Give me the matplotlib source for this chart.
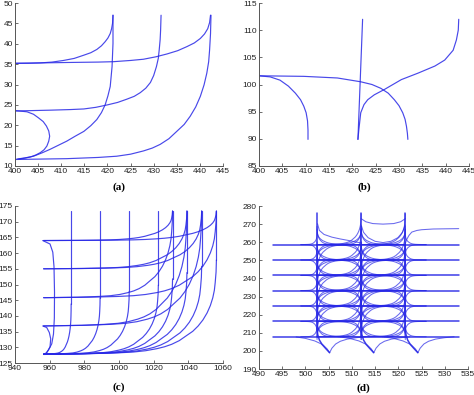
import matplotlib
matplotlib.use("Agg")
import matplotlib.pyplot as plt

# ---------------- panel (a) ----------------
a_xlim = (400, 445); a_ylim = (10, 50)
a_xticks = list(range(400, 446, 5)); a_yticks = list(range(10, 51, 5))
a_curves_x = [
    [400, 403, 405.5, 408, 410.5, 412.8, 414.9, 416.4, 417.7, 418.7, 419.5, 420.1, 420.6, 420.9, 421.1, 421.2],
    [400, 411.2, 418, 421.3, 425, 427.8, 430.5, 432.9, 435.2, 437.2, 438.8, 440.1, 441.0, 441.7, 442.1, 442.3],
    [400, 407.6, 412, 414.9, 417.5, 420, 422.2, 424.2, 425.8, 427.1, 428.3, 429.3, 430.0, 430.6, 431.0, 431.2, 431.4, 431.5, 431.6],
    [400, 402.6, 404.0, 405.1, 406.1, 406.8, 407.3, 407.5, 407.3, 406.9, 406.3, 405.5, 404.5, 403.3, 402.0, 400.8],
    [400.4, 402.2, 404, 405.8, 407.6, 409.4, 411.2, 413, 414.9, 416.4, 417.7, 418.7, 419.5, 420.1, 420.6, 421, 421.2, 421.2],
    [400, 411.2, 418, 422, 425, 427.8, 429.7, 431.4, 433.3, 435, 436.6, 437.9, 439.1, 440.1, 440.9, 441.5, 441.9, 442.1, 442.3, 442.4],
]
a_curves_y = [
    [35.2, 35.22, 35.3, 35.5, 35.9, 36.4, 37.2, 37.8, 38.6, 39.5, 40.5, 41.4, 42.5, 43.7, 45.0, 47.0],
    [35.2, 35.4, 35.5, 35.6, 35.9, 36.2, 36.8, 37.5, 38.3, 39.3, 40.2, 41.3, 42.4, 43.7, 45.2, 47.0],
    [23.5, 23.7, 23.85, 24.0, 24.4, 25.0, 25.6, 26.4, 27.1, 28.0, 29.1, 30.5, 32.2, 34.4, 36.4, 38.5, 41, 43.3, 47.0],
    [23.6, 23.3, 22.7, 21.8, 20.9, 19.8, 18.6, 17.3, 16.1, 14.9, 14.0, 13.3, 12.7, 12.2, 11.9, 11.7],
    [11.7, 12.0, 12.4, 13.2, 14.1, 15.1, 16.1, 17.3, 18.5, 19.9, 21.4, 23.1, 25.0, 27.2, 29.5, 34.4, 40.1, 47.0],
    [11.6, 11.8, 12.1, 12.4, 12.9, 13.7, 14.4, 15.3, 16.7, 18.5, 20.2, 22.2, 24.5, 27.1, 29.9, 32.8, 35.6, 38.5, 42.5, 47.0],
]

# ---------------- panel (b) ----------------
b_xlim = (400, 445); b_ylim = (85, 115)
b_xticks = list(range(400, 446, 5)); b_yticks = list(range(85, 116, 5))
b_curves_x = [
    [400, 402.4, 404.5, 406.3, 407.8, 408.9, 409.6, 410.1, 410.4, 410.5, 410.5],
    [400, 405, 409.6, 416.8, 421.8, 424.2, 426.1, 427.7, 429.0, 430.0, 430.8, 431.3, 431.6, 431.8, 431.9],
    [421.2, 422.2],
    [421.2, 421.4, 421.8, 422.5, 423.3, 424.7, 426.9, 430.5, 434.1, 437.7, 439.8, 441.6, 442.3, 442.7, 442.8],
]
b_curves_y = [
    [101.6, 101.4, 100.8, 99.7, 98.4, 97.2, 96.0, 94.8, 93.3, 91.6, 89.9],
    [101.6, 101.55, 101.5, 101.2, 100.5, 100.0, 99.3, 98.4, 97.2, 96.1, 94.8, 93.6, 92.3, 91.0, 89.9],
    [89.9, 112.0],
    [89.9, 91.7, 94.8, 96.3, 97.2, 98.1, 99.1, 100.9, 102.1, 103.4, 104.5, 106.3, 108.2, 110.0, 112.0],
]

hook_u = [1.0, 0.736, 0.575, 0.481, 0.410, 0.344, 0.300, 0.259, 0.215, 0.175, 0.137, 0.106, 0.078, 0.054, 0.035, 0.021, 0.012, 0.007, 0.002, 0.0]
hook_w = [0.0, 0.0056, 0.014, 0.023, 0.037, 0.059, 0.079, 0.105, 0.144, 0.195, 0.243, 0.299, 0.364, 0.438, 0.517, 0.599, 0.678, 0.760, 0.873, 1.0]

# ---------------- panel (c) ----------------
c_xlim = (940, 1060); c_ylim = (125, 175)
c_xticks = list(range(940, 1061, 20)); c_yticks = list(range(125, 176, 5))
c_levels = [127.8, 136.8, 145.8, 155.0, 164.0]
c_start = 956.5
c_top = 173.4
c_verticals = [972.4, 989.1, 1005.9, 1022.7, 1030.9, 1039.2, 1047.7, 1056.2]
c_bottom_bend = [16.0, 18.0, 20.0, 22.0, 24.0, 26.0, 28.0, 30.0]
c_upper_level = [164.0, 164.0, 155.0, 155.0, 145.8, 145.8, 136.8, 136.8]
c_upper_vert = [1030.9, 1056.2, 1039.2, 1047.7, 1030.9, 1056.2, 1039.2, 1047.7]
c_edge_x = [956, 960.2, 961.8, 962.5, 962.8, 962.7, 962.2, 961.2, 959.3, 957.3]
c_edge_y = [164, 162.9, 160.3, 155.7, 147.5, 139.3, 134.2, 131.1, 129.1, 127.7]
c_arc_x = [956, 958.3, 959.8, 960.6, 960.2, 958.3, 956.8]
c_arc_y = [136.8, 136.3, 134.7, 132.7, 130.1, 128.3, 127.7]

# ---------------- panel (d) ----------------
d_xlim = (490, 535); d_ylim = (190, 280)
d_xticks = list(range(490, 536, 5)); d_yticks = list(range(190, 281, 10))
d_levels = [207.8, 216.3, 224.8, 233.3, 241.7, 250.2, 258.7]
d_hx = (493, 533)
d_verticals = [502.5, 512.0, 521.5]
d_vtop = 276.0
d_cusp_dx = [0, 0.15, 0.5, 1.1, 1.9, 2.7]
d_cusp_y = [212, 209, 206, 203.5, 201.2, 199]
d_rbranch_dx = [2.7, 3.2, 4.0, 5.0, 6.5, 8.5, 10.5]
d_rbranch_y = [199, 201.5, 203.8, 205.3, 206.5, 207.3, 207.8]
d_lbranch_dx = [2.7, 2.2, 1.2, -0.5, -2.5, -4.5]
d_lbranch_y = [199, 201.0, 203.5, 205.5, 206.9, 207.7]
# hook groups: vertical, side (+1 right / -1 left), horizontal reach, vertical reach, direction (0 = both)
d_hook_v = [502.5, 521.5, 502.5, 512.0, 512.0, 521.5, 502.5, 512.0, 512.0, 521.5,
            502.5, 512.0, 521.5, 512.0]
d_hook_side = [-1, 1, 1, -1, 1, -1, 1, -1, 1, -1,
               1, 1, -1, -1]
d_hook_dx = [3.5, 4.5, 5.0, 5.0, 5.0, 5.0, 9.5, 9.5, 9.5, 9.5,
             9.5, 9.5, 9.5, 9.5]
d_hook_dy = [6.5, 6.5, 10.0, 10.0, 10.0, 10.0, 8.5, 8.5, 8.5, 8.5,
             17.0, 17.0, 17.0, 17.0]
d_hook_dir = [0, 0, 0, 0, 0, 0, 0, 0, 0, 0,
              -1, -1, 1, 1]
d_vrange = (203.0, 276.0)
d_extra_x = [
    [502.6, 503.0, 504.0, 505.7, 507.5, 509.2, 512.1],
    [512, 513, 514.5, 516.7, 519, 520.5, 521.5],
    [512, 512.5, 513.5, 515, 516.7, 518.4, 519.9, 520.9, 521.5],
    [521.4, 521.8, 522.3, 522.9, 524.0, 525.0, 527.5, 530.0, 533.0],
]
d_extra_y = [
    [270.2, 266.5, 264.3, 262.8, 261.8, 261.0, 259.5],
    [273, 271.3, 270.3, 270.0, 270.3, 271.3, 273],
    [269.5, 265.5, 262.5, 260.5, 259.8, 260.5, 262.5, 265.5, 269.5],
    [258.5, 261.5, 263.8, 265.6, 266.5, 266.9, 267.3, 267.4, 267.5],
]

LINE = dict(color="#2828e6", lw=0.85, alpha=0.85, solid_capstyle="round")
W, H = 474, 395
fig = plt.figure(figsize=(W / 100, H / 100), dpi=100)


def make_ax(l, r, t, b):
    ax = fig.add_axes([l / W, 1 - b / H, (r - l) / W, (b - t) / H])
    for s in ("top", "right"):
        ax.spines[s].set_visible(False)
    for s in ("left", "bottom"):
        ax.spines[s].set_color("#555555")
        ax.spines[s].set_linewidth(0.7)
    ax.tick_params(direction="in", length=2, width=0.6, color="#555555",
                   labelsize=6.0, pad=1.5, labelcolor="#222222")
    return ax


def style_ticks(ax, xlim, ylim, xt, yt):
    ax.set_xlim(*xlim); ax.set_ylim(*ylim)
    ax.set_xticks(xt); ax.set_yticks(yt)
    ax.set_xticklabels([str(v) for v in xt], fontfamily="Liberation Sans")
    ax.set_yticklabels([str(v) for v in yt], fontfamily="Liberation Sans")


def hook(ax, cx, cy, sx, sy, dx, dy, style):
    xs = [cx + sx * dx * u for u in hook_u]
    ys = [cy + sy * dy * w for w in hook_w]
    ax.plot(xs, ys, **style)


def label(ax, text, yfrac):
    ax.text(0.5, yfrac, text, transform=ax.transAxes, ha="center", va="center",
            fontsize=8, fontweight="bold", fontfamily="Liberation Serif")

# (a)
ax = make_ax(15, 223, 3, 166)
for xs, ys in zip(a_curves_x, a_curves_y):
    ax.plot(xs, ys, **LINE)
style_ticks(ax, a_xlim, a_ylim, a_xticks, a_yticks)
label(ax, "(a)", -0.13)

# (b)
ax = make_ax(259, 469, 3, 166)
for xs, ys in zip(b_curves_x, b_curves_y):
    ax.plot(xs, ys, **LINE)
style_ticks(ax, b_xlim, b_ylim, b_xticks, b_yticks)
label(ax, "(b)", -0.13)

# (c)
ax = make_ax(15, 223, 206, 363)
for xv, bend in zip(c_verticals, c_bottom_bend):
    hook(ax, xv, c_levels[0], -1, 1, xv - c_start, bend, LINE)
    ax.plot([xv, xv], [c_levels[0] + bend, c_top], **LINE)
for lv, xv in zip(c_upper_level, c_upper_vert):
    hook(ax, xv, lv, -1, 1, xv - c_start, c_top - lv, LINE)
ax.plot(c_edge_x, c_edge_y, **LINE)
ax.plot(c_arc_x, c_arc_y, **LINE)
style_ticks(ax, c_xlim, c_ylim, c_xticks, c_yticks)
label(ax, "(c)", -0.155)

# (d)
ax = make_ax(259, 468, 206, 369)
DL = dict(LINE, lw=0.75, alpha=0.7)
DH = dict(LINE, lw=1.1, alpha=0.9)
for lv in d_levels:
    ax.plot(list(d_hx), [lv, lv], **DH)
for xv in d_verticals:
    ax.plot([xv, xv], [d_vtop, d_cusp_y[0]], **DH)
    ax.plot([xv + d for d in d_cusp_dx], d_cusp_y, **DH)
    ax.plot([xv + d for d in d_rbranch_dx], d_rbranch_y, **DL)
    ax.plot([xv + d for d in d_lbranch_dx], d_lbranch_y, **DL)
for xv, sd, dx, dy, dr in zip(d_hook_v, d_hook_side, d_hook_dx, d_hook_dy, d_hook_dir):
    for lv in d_levels:
        for sy in ((1, -1) if dr == 0 else (dr,)):
            end = lv + sy * dy
            if d_vrange[0] <= end <= d_vrange[1]:
                hook(ax, xv, lv, sd, sy, dx, dy, DL)
for xs, ys in zip(d_extra_x, d_extra_y):
    ax.plot(xs, ys, **DL)
style_ticks(ax, d_xlim, d_ylim, d_xticks, d_yticks)
label(ax, "(d)", -0.12)

fig.savefig("out.png", dpi=100)
